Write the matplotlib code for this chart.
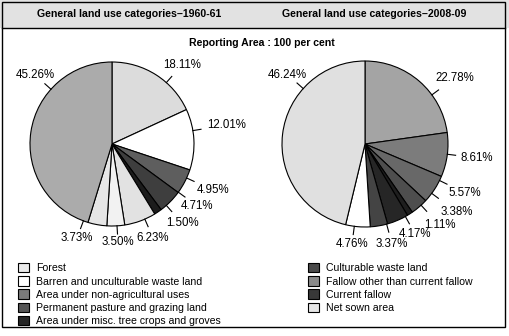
import matplotlib
matplotlib.use("Agg")
import matplotlib.pyplot as plt
from matplotlib.patches import Rectangle, Patch
import numpy as np

plt.rcParams['font.family'] = ['Liberation Sans', 'DejaVu Sans']

# ---- data -------------------------------------------------------------
categories = [
    "Forest",
    "Barren and unculturable waste land",
    "Area under non-agricultural uses",
    "Permanent pasture and grazing land",
    "Area under misc. tree crops and groves",
    "Culturable waste land",
    "Fallow other than current fallow",
    "Current fallow",
    "Net sown area",
]
share_1960 = [18.11, 12.01, 4.95, 4.71, 1.50, 6.23, 3.50, 3.73, 45.26]
share_2008 = [22.78, 8.61, 5.57, 3.38, 1.11, 4.17, 3.37, 4.76, 46.24]
title_1960 = "General land use categories\u20131960-61"
title_2008 = "General land use categories\u20132008-09"
subtitle = "Reporting Area : 100 per cent"

# ---- styling ----------------------------------------------------------
colors_1960 = ["#dcdcdc", "#ffffff", "#5e5e5e", "#3e3e3e", "#1c1c1c",
               "#e2e2e2", "#f2f2f2", "#e6e6e6", "#ababab"]
colors_2008 = ["#a4a4a4", "#7c7c7c", "#686868", "#4e4e4e", "#1e1e1e",
               "#262626", "#444444", "#ffffff", "#e0e0e0"]
legend_colors = ["#eaeaea", "#ffffff", "#7a7a7a", "#555555", "#262626",
                 "#4a4a4a", "#8a8a8a", "#383838", "#e6e6e6"]

# label placement: (angle clockwise from 12 o'clock, radius in pie units)
label_pos_1960 = [(41.5, 1.29), (80.6, 1.42), (114.5, 1.35), (126, 1.28),
                  (138.5, 1.29), (156.4, 1.25), (176.5, 1.20), (200.4, 1.22),
                  (311.9, 1.26)]
label_pos_2008 = [(53.7, 1.34), (97.1, 1.36), (116.1, 1.34), (126.5, 1.38),
                  (137.5, 1.33), (150.9, 1.24), (164.9, 1.25), (187.4, 1.21),
                  (311.9, 1.25)]

W, H = 510, 336
fig = plt.figure(figsize=(W / 100, H / 100), dpi=100)

# background canvas in pixel coordinates
bg = fig.add_axes([0, 0, 1, 1])
bg.set_xlim(0, W)
bg.set_ylim(H, 0)
bg.axis("off")
bg.add_patch(Rectangle((0, 0), W, 28, facecolor="#e2e2e2", edgecolor="none"))
bg.add_patch(Rectangle((2, 2), 503, 325, facecolor="none", edgecolor="black", lw=1.0))
bg.plot([2, 505], [28, 28], color="black", lw=1.0)
bg.text(129.5, 14, title_1960, ha="center", va="center", fontsize=7.6, fontweight="bold")
bg.text(374, 14, title_2008, ha="center", va="center", fontsize=7.6, fontweight="bold")
bg.text(261.5, 43, subtitle, ha="center", va="center", fontsize=7.6, fontweight="bold")

L = 1.5


def pie_axes(cx, cy, r):
    return fig.add_axes([(cx - r * L) / W, 1 - (cy + r * L) / H, 2 * r * L / W, 2 * r * L / H])


def draw_pie(ax, values, colors, label_pos):
    ax.pie(values, colors=colors, startangle=90, counterclock=False, radius=1.0,
           wedgeprops=dict(edgecolor="black", linewidth=0.8))
    ax.set_xlim(-L, L)
    ax.set_ylim(-L, L)
    ax.set_aspect("equal")
    ax.axis("off")
    for v, (ang, rt) in zip(values, label_pos):
        t = np.deg2rad(90 - ang)
        ux, uy = np.cos(t), np.sin(t)
        ax.plot([ux * 1.0, ux * 1.1], [uy * 1.0, uy * 1.1], color="black", lw=0.8,
                clip_on=False)
        ax.text(ux * rt, uy * rt, f"{v:.2f}%", ha="center", va="center",
                fontsize=8.3, clip_on=False)


draw_pie(pie_axes(112, 144, 82), share_1960, colors_1960, label_pos_1960)
draw_pie(pie_axes(365, 144, 83), share_2008, colors_2008, label_pos_2008)

handles = [Patch(facecolor=c, edgecolor="black", lw=0.8) for c in legend_colors]
common = dict(frameon=False, fontsize=7.6, handlelength=1.0, handleheight=1.0,
              handletextpad=0.75, labelspacing=0.27, borderpad=0, borderaxespad=0)
leg1 = bg.legend(handles[:5], categories[:5], loc="upper left",
                 bbox_to_anchor=(18 / W, 1 - 263 / H), **common)
bg.add_artist(leg1)
bg.legend(handles[5:], categories[5:], loc="upper left",
          bbox_to_anchor=(308 / W, 1 - 263 / H), **common)

fig.savefig("out.png", dpi=100)
